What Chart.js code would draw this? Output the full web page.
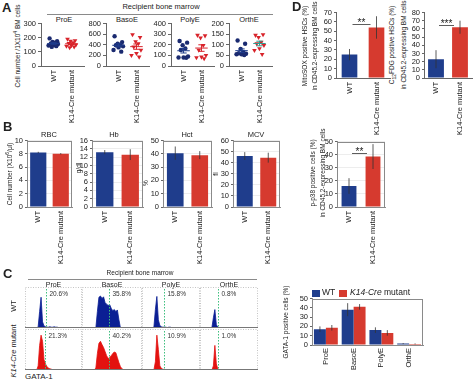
<!DOCTYPE html>
<html><head><meta charset="utf-8">
<script src="https://cdn.jsdelivr.net/npm/chart.js@4.4.1/dist/chart.umd.min.js"></script>
<style>
body{margin:0;width:474px;height:384px;position:relative;background:#fff;overflow:hidden;font-family:'Liberation Sans',Arial,sans-serif;color:#222}
.t{position:absolute;white-space:nowrap;line-height:1}
.r{transform:translate(-50%,-50%) rotate(-90deg);text-align:center}
.c{transform:translateX(-50%)}
.b{font-weight:bold}
.ln{position:absolute;height:1px;background:#8a8a8a}
canvas{position:absolute}
</style></head><body>
<script>
// groups / categories
const groups = ['WT', 'K14-Cre mutant'];
const stages = ['ProE', 'BasoE', 'PolyE', 'OrthE'];

// A: cell number / 1x10^4 BM cells (one value per mouse)
const proeWT = [195, 175, 170, 165, 160, 155, 150, 145, 140, 135];
const proeMut = [190, 180, 175, 165, 160, 150, 145, 140, 135, 130];
const basoWT = [560, 450, 420, 400, 390, 370, 350, 300, 270];
const basoMut = [590, 540, 460, 420, 360, 300, 240, 200, 170];
const polyWT = [235, 220, 195, 165, 150, 90, 80, 80, 78];
const polyMut = [290, 285, 265, 195, 150, 100, 85, 80, 70];
const orthWT = [120, 105, 80, 65, 60, 58, 55, 55, 52];
const orthMut = [145, 148, 135, 112, 105, 97, 82, 74, 55];

// B: blood counts, WT vs mutant
const rbc = [8.2, 8.0], rbcErr = [0.1, 0.1];
const hb = [13.2, 12.6], hbErr = [0.5, 1.3];
const hct = [40.5, 39], hctErr = [5, 3];
const mcv = [46, 44.5], mcvErr = [3.5, 4.5];

// D: HSC assays (%)
const mitosox = [25, 54], mitosoxErr = [6, 12];
const c12fdg = [23, 62], c12fdgErr = [11, 8];
const pp38 = [16, 38.5], pp38Err = [6, 9.5];

// C: GATA-1 positive cells (%)
const gataWT = [17, 38, 16, 1.5], gataWTErr = [3, 7, 3, 0.5];
const gataMut = [18.5, 41, 13, 1.2], gataMutErr = [3, 3, 3, 0.5];
const pctWT = ['20.6%', '35.8%', '15.8%', '0.8%'];
const pctMut = ['21.3%', '40.2%', '10.9%', '1.0%'];
const gateWT = [14.5, 17.3, 14.5, 12.4];
const gateMut = [14, 17.3, 14.5, 12.4];

// C: GATA-1 histograms (40 bins)
const hProeWT  = [0,0,0,0,0,0,0,0,0,3, 40,75,15,5,3,2,2,3,2,2, 3,2,2,1,0,0,0,0,0,0, 0,0,0,0,0,0,0,0,0,0];
const hBasoWT  = [0,0,0,0,0,0,0,0,0,0, 40,75,78,72,76,62,58,55,57,48, 42,45,40,44,20,0,0,0,0,0, 0,0,0,0,0,0,0,0,0,0];
const hPolyWT  = [0,0,0,0,0,0,0,0,2,45, 77,20,6,3,2,2,2,1,2,2, 1,1,1,0,0,0,0,0,0,0, 0,0,0,0,0,0,0,0,0,0];
const hOrthWT  = [0,0,0,0,0,0,0,0,1,25, 45,8,2,0,0,0,0,0,0,0, 0,0,0,0,0,0,0,0,0,0, 0,0,0,0,0,0,0,0,0,0];
const hProeMut = [0,0,0,0,0,0,0,0,0,10, 60,85,70,25,15,8,5,3,2,0, 0,0,0,0,0,0,0,0,0,0, 0,0,0,0,0,0,0,0,0,0];
const hBasoMut = [0,0,0,0,0,0,0,0,0,5, 40,65,70,62,55,45,35,28,30,35, 40,44,42,30,18,8,3,0,0,0, 0,0,0,0,0,0,0,0,0,0];
const hPolyMut = [0,0,0,0,0,0,0,0,0,20, 85,50,10,4,2,1,0,0,0,0, 0,0,0,0,0,0,0,0,0,0, 0,0,0,0,0,0,0,0,0,0];
const hOrthMut = [0,0,0,0,0,0,0,0,0,10, 60,15,2,0,0,0,0,0,0,0, 0,0,0,0,0,0,0,0,0,0, 0,0,0,0,0,0,0,0,0,0];

const BLUE = '#1f3d8c', RED = '#d63a2f', NAVY = '#1a2a70', PRED = '#d8232a';
const AX = '#666';
const FONT = "'Liberation Sans', Arial, sans-serif";
Chart.defaults.font.family = FONT;
Chart.defaults.font.size = 7.5;
Chart.defaults.color = '#222';
Chart.defaults.plugins.legend.display = false;
Chart.defaults.plugins.tooltip.enabled = false;
Chart.defaults.animation = false;
Chart.defaults.responsive = false;

function mk(x, y, w, h) {
  const c = document.createElement('canvas');
  c.style.left = x + 'px'; c.style.top = y + 'px';
  c.width = w; c.height = h;
  document.body.appendChild(c);
  return c;
}
function txt(x, y, html, size, cls, extra) {
  const d = document.createElement('div');
  d.className = 't ' + (cls || '');
  d.style.cssText = `left:${x}px;top:${y}px;font-size:${size}px;${extra || ''}`;
  d.innerHTML = html;
  document.body.appendChild(d);
}
function line(x, y, w) {
  const d = document.createElement('div');
  d.className = 'ln';
  d.style.cssText = `left:${x}px;top:${y}px;width:${w}px`;
  document.body.appendChild(d);
}

// plot = [left, top, right, bottom] of the plot area in page pixels
function chartAt(plot, lw, bh, config) {
  const [l, t, r, b] = plot;
  const cv = mk(l - lw, t - 6, r - l + lw + 5, b - t + 6 + bh);
  config.options.layout = {padding: {top: 6, right: 5, left: 0, bottom: 0}};
  config.options.scales.x.afterFit = s => { s.height = bh; };
  config.options.scales.y.afterFit = s => { s.width = lw; };
  return new Chart(cv, config);
}

const frame = {id: 'frame', afterDraw(chart) {
  const {ctx, chartArea: a} = chart;
  ctx.save();
  ctx.strokeStyle = '#8a8a8a'; ctx.lineWidth = 1;
  ctx.strokeRect(Math.round(a.left) + 0.5, Math.round(a.top) + 0.5, Math.round(a.right - a.left) - 1, Math.round(a.bottom - a.top) - 1);
  ctx.restore();
}};

const errs = {id: 'errs', afterDatasetsDraw(chart) {
  const ctx = chart.ctx, ys = chart.scales.y;
  chart.data.datasets.forEach((ds, di) => {
    if (!ds.err) return;
    chart.getDatasetMeta(di).data.forEach((bar, i) => {
      ctx.save();
      ctx.strokeStyle = '#333'; ctx.lineWidth = 0.8;
      ctx.beginPath();
      ctx.moveTo(bar.x, ys.getPixelForValue(ds.data[i] - ds.err[i]));
      ctx.lineTo(bar.x, ys.getPixelForValue(ds.data[i] + ds.err[i]));
      ctx.stroke();
      ctx.restore();
    });
  });
}};

const sig = {id: 'sig', afterDatasetsDraw(chart, args, o) {
  if (!o.text) return;
  const ctx = chart.ctx, m = chart.getDatasetMeta(0).data;
  const y = Math.round(chart.scales.y.getPixelForValue(o.at)) + 0.5;
  const x0 = m[0].x + 3, x1 = m[1].x - 6;
  ctx.save();
  ctx.strokeStyle = '#333'; ctx.lineWidth = 0.8;
  ctx.beginPath(); ctx.moveTo(x0, y); ctx.lineTo(x1, y); ctx.stroke();
  ctx.fillStyle = '#222'; ctx.font = '10px ' + FONT;
  ctx.textAlign = 'center'; ctx.textBaseline = 'alphabetic';
  ctx.fillText(o.text, (x0 + x1) / 2, y + 1);
  ctx.restore();
}};

const means = {id: 'means', afterDatasetsDraw(chart, args, o) {
  const {ctx, scales: {x, y}} = chart;
  chart.data.datasets.forEach((ds, g) => {
    const v = ds.data.map(p => p.y), n = v.length;
    const m = v.reduce((a, b) => a + b, 0) / n;
    const se = Math.sqrt(v.reduce((a, b) => a + (b - m) ** 2, 0) / (n - 1)) / Math.sqrt(n);
    const xc = x.getPixelForValue(g), hw = x.getPixelForValue(g + 0.35) - xc, cw = hw / 2;
    const ym = y.getPixelForValue(m), yl = y.getPixelForValue(m - se), yh = y.getPixelForValue(m + se);
    ctx.save();
    ctx.strokeStyle = o.colors[g]; ctx.lineWidth = 1;
    ctx.beginPath();
    ctx.moveTo(xc - hw, ym); ctx.lineTo(xc + hw, ym);
    ctx.moveTo(xc, yl); ctx.lineTo(xc, yh);
    ctx.moveTo(xc - cw, yl); ctx.lineTo(xc + cw, yl);
    ctx.moveTo(xc - cw, yh); ctx.lineTo(xc + cw, yh);
    ctx.stroke();
    ctx.restore();
  });
}};

const gate = {id: 'gate',
  beforeDatasetsDraw(chart) {
    const {ctx, chartArea: a} = chart;
    ctx.save();
    ctx.strokeStyle = '#c4c4c4'; ctx.lineWidth = 1; ctx.setLineDash([1, 1.5]);
    ctx.strokeRect(a.left + 0.5, a.top + 0.5, a.right - a.left - 1, a.bottom - a.top - 1);
    ctx.restore();
  },
  afterDatasetsDraw(chart, args, o) {
    const {ctx, chartArea: a} = chart;
    const gx = Math.round(chart.scales.x.getPixelForValue(o.at)) + 0.5;
    ctx.save();
    ctx.strokeStyle = '#777'; ctx.lineWidth = 1;
    ctx.beginPath(); ctx.moveTo(a.left, a.bottom - 0.5); ctx.lineTo(a.right, a.bottom - 0.5); ctx.stroke();
    ctx.strokeStyle = '#3fbf7f'; ctx.setLineDash([1.5, 1.5]);
    ctx.beginPath(); ctx.moveTo(gx, a.top + 2); ctx.lineTo(gx, a.bottom); ctx.stroke();
    ctx.fillStyle = '#333'; ctx.font = '6.5px ' + FONT;
    ctx.textBaseline = 'top';
    ctx.fillText(o.text, gx + 3, a.top + 4);
    ctx.restore();
  }
};

// jitter so dots of one group do not sit on top of each other
const JIT = [-0.22, 0.2, -0.05, 0.1, -0.15, 0.25, 0, -0.28, 0.15, -0.1];
function pts(vals, g) { return vals.map((v, i) => ({x: g + JIT[i % JIT.length], y: v})); }

function scatterA(plot, wt, mut, max, step, meanMut) {
  return chartAt(plot, 22, 64, {
    type: 'scatter',
    data: {datasets: [
      {data: pts(wt, 0), pointStyle: 'circle', pointRadius: 2.2, pointBackgroundColor: NAVY, pointBorderWidth: 0},
      {data: pts(mut, 1), pointStyle: 'triangle', pointRotation: 180, pointRadius: 2.7, pointBackgroundColor: PRED, pointBorderWidth: 0}
    ]},
    options: {
      scales: {
        x: {min: -0.7, max: 1.7, afterBuildTicks: s => { s.ticks = [{value: 0}, {value: 1}]; },
            ticks: {callback: v => groups[v], minRotation: 90, maxRotation: 90, autoSkip: false, padding: 4},
            grid: {display: false, drawTicks: false}, border: {color: AX}},
        y: {min: 0, max: max, ticks: {stepSize: step, padding: 2, autoSkip: false},
            grid: {drawOnChartArea: false, tickLength: 3, color: AX}, border: {color: AX}}
      },
      plugins: {means: {colors: [BLUE, meanMut]}}
    },
    plugins: [means]
  });
}

function bars(plot, lw, bh, vals, err, max, step, boxed, star, starAt, bp) {
  return chartAt(plot, lw, bh, {
    type: 'bar',
    data: {labels: groups, datasets: [{data: vals, err: err, backgroundColor: [BLUE, RED], barPercentage: bp, categoryPercentage: 1}]},
    options: {
      scales: {
        x: {ticks: {minRotation: 90, maxRotation: 90, autoSkip: false, padding: 4},
            grid: {display: false, drawTicks: false}, border: {color: boxed ? '#8a8a8a' : AX}},
        y: {min: 0, max: max, ticks: {stepSize: step, padding: 2, autoSkip: false},
            grid: {drawOnChartArea: boxed, color: '#ededed', tickColor: AX, tickLength: 2},
            border: {color: boxed ? '#8a8a8a' : AX}}
      },
      plugins: {sig: {text: star, at: starAt}}
    },
    plugins: boxed ? [errs, sig, frame] : [errs, sig]
  });
}

function hist(x0, x1, y0, y1, data, color, at, pct) {
  return new Chart(mk(x0, y0, x1 - x0, y1 - y0), {
    type: 'line',
    data: {labels: data.map((_, i) => i), datasets: [{data: data, borderColor: color, backgroundColor: color,
      fill: 'origin', borderWidth: 0.8, pointRadius: 0, tension: 0}]},
    options: {
      layout: {padding: 0},
      scales: {x: {display: false, offset: false}, y: {display: false, min: 0, max: 100}},
      plugins: {gate: {at: at, text: pct}}
    },
    plugins: [gate]
  });
}

// ---- A ----
txt(2, 1, 'A', 13, 'b');
txt(161, 3, 'Recipient bone marrow', 7.5, 'c');
line(47, 14, 226);
txt(64, 16, 'ProE', 7.5, 'c');
txt(127, 16, 'BasoE', 7.5, 'c');
txt(190, 16, 'PolyE', 7.5, 'c');
txt(249, 16, 'OrthE', 7.5, 'c');
txt(17, 46, 'Cell number /1X10<sup style="font-size:5px">4</sup> BM cells', 6.5, 'r');
scatterA([41, 23, 84, 66], proeWT, proeMut, 300, 100, PRED);
scatterA([106, 23, 149, 66], basoWT, basoMut, 800, 200, PRED);
scatterA([171, 23, 214, 66], polyWT, polyMut, 400, 100, PRED);
scatterA([229, 23, 272, 66], orthWT, orthMut, 200, 50, '#2a9d8f');

// ---- B ----
txt(3, 120, 'B', 13, 'b');
txt(49, 131, 'RBC', 7.5, 'c');
txt(114, 131, 'Hb', 7.5, 'c');
txt(187, 131, 'Hct', 7.5, 'c');
txt(256, 131, 'MCV', 7.5, 'c');
txt(9, 174, 'Cell number (X10<sup style="font-size:5px">6</sup>/μl)', 6.5, 'r');
txt(79, 168, 'g/dl', 6.5, 'r');
txt(146, 183, '%', 6.5, 'r');
txt(216, 174, 'fl', 6.5, 'r');
bars([27, 140, 72, 207], 14, 64, rbc, rbcErr, 10, 2, true, '', 0, 0.72);
bars([92, 140, 143, 207], 14, 64, hb, hbErr, 16, 2, true, '', 0, 0.68);
bars([163, 140, 212, 207], 14, 64, hct, hctErr, 50, 10, true, '', 0, 0.68);
bars([233, 140, 280, 207], 14, 64, mcv, mcvErr, 60, 10, true, '', 0, 0.68);

// ---- D ----
txt(292, 0, 'D', 13, 'b');
txt(310, 46, 'MitoSOX positive HSCs (%)<br>in CD45.2-expressing BM cells', 6.5, 'r', 'line-height:10px');
txt(398, 45, 'C<sub style="font-size:5px">12</sub>FDG positive HSCs (%)<br>in CD45.2-expressing BM cells', 6.5, 'r', 'line-height:10px');
txt(318, 173, 'p-p38 positive cells (%)<br>in CD45.2-expressing BM cells', 6.5, 'r', 'line-height:10px');
bars([336, 12, 390, 78], 14, 60, mitosox, mitosoxErr, 70, 10, false, '**', 58, 0.58);
bars([424, 12, 472, 78], 14, 60, c12fdg, c12fdgErr, 80, 10, false, '***', 65, 0.66);
bars([337, 141, 385, 207], 14, 62, pp38, pp38Err, 50, 10, true, '**', 41, 0.62);

// ---- C ----
txt(3, 267, 'C', 13, 'b');
txt(140, 270, 'Recipient bone marrow', 6.5, 'c');
line(28, 279, 229);
const colX = [25, 82, 142, 200, 258];
stages.forEach((s, i) => txt((colX[i] + colX[i + 1]) / 2, 281, s, 7, 'c'));
txt(14, 306, 'WT', 7.5, 'r');
txt(14, 351, '<i>K14-Cre</i> mutant', 7.5, 'r');
txt(25, 373, 'GATA-1', 8);
const hWT = [hProeWT, hBasoWT, hPolyWT, hOrthWT];
const hMut = [hProeMut, hBasoMut, hPolyMut, hOrthMut];
stages.forEach((s, i) => {
  hist(colX[i], colX[i + 1], 287, 328, hWT[i], '#0b1f94', gateWT[i], pctWT[i]);
  hist(colX[i], colX[i + 1], 329, 370, hMut[i], '#e3120f', gateMut[i], pctMut[i]);
});

// C bar chart
txt(312, 290, '', 0, '', `width:8px;height:7px;background:${BLUE}`);
txt(322, 288, 'WT', 8.5);
txt(339, 290, '', 0, '', `width:8px;height:7px;background:${RED}`);
txt(350, 288, '<i>K14-Cre</i> mutant', 8.5);
txt(286, 322, 'GATA-1 positive cells (%)', 6.5, 'r');
chartAt([312, 298, 423, 345], 14, 34, {
  type: 'bar',
  data: {labels: stages, datasets: [
    {data: gataWT, err: gataWTErr, backgroundColor: BLUE, barPercentage: 1, categoryPercentage: 0.86},
    {data: gataMut, err: gataMutErr, backgroundColor: RED, barPercentage: 1, categoryPercentage: 0.86}
  ]},
  options: {
    scales: {
      x: {ticks: {minRotation: 90, maxRotation: 90, autoSkip: false, padding: 3}, grid: {display: false, drawTicks: false}, border: {color: '#8a8a8a'}},
      y: {min: 0, max: 50, ticks: {stepSize: 10, padding: 2, autoSkip: false}, grid: {drawOnChartArea: false, tickColor: AX, tickLength: 2}, border: {color: '#8a8a8a'}}
    }
  },
  plugins: [errs, frame]
});
</script>
</body></html>
